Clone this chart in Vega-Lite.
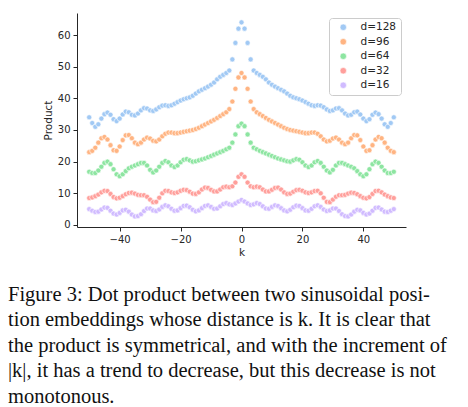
{
  "$schema": "https://vega.github.io/schema/vega-lite/v6.json",
  "width": 329,
  "height": 214,
  "autosize": {"type": "none"},
  "padding": {"left": 77, "top": 13, "right": 62, "bottom": 180},
  "background": "white",
  "config": {"view": {"stroke": null}, "font": "DejaVu Sans"},
  "title": {
    "text": [
      "Figure 3: Dot product between two sinusoidal posi-",
      "tion embeddings whose distance is k.  It is clear that",
      "the product is symmetrical, and with the increment of",
      "|k|, it has a trend to decrease, but this decrease is not",
      "monotonous."
    ],
    "orient": "bottom",
    "anchor": "start",
    "frame": "group",
    "dx": -69,
    "offset": 27,
    "font": "Liberation Serif",
    "fontSize": 20.5,
    "fontWeight": "normal",
    "lineHeight": 25.5,
    "color": "#111111"
  },
  "data": {
    "values": [
      {"k":-50,"d":"d=128","p":34.0},{"k":-49,"d":"d=128","p":32.2},{"k":-48,"d":"d=128","p":31.0},{"k":-47,"d":"d=128","p":31.8},{"k":-46,"d":"d=128","p":33.6},
      {"k":-45,"d":"d=128","p":35.0},{"k":-44,"d":"d=128","p":35.5},{"k":-43,"d":"d=128","p":34.8},{"k":-42,"d":"d=128","p":33.4},{"k":-41,"d":"d=128","p":32.8},
      {"k":-40,"d":"d=128","p":33.6},{"k":-39,"d":"d=128","p":34.9},{"k":-38,"d":"d=128","p":35.8},{"k":-37,"d":"d=128","p":35.6},{"k":-36,"d":"d=128","p":34.8},
      {"k":-35,"d":"d=128","p":34.6},{"k":-34,"d":"d=128","p":35.2},{"k":-33,"d":"d=128","p":36.2},{"k":-32,"d":"d=128","p":36.9},{"k":-31,"d":"d=128","p":36.8},
      {"k":-30,"d":"d=128","p":36.2},{"k":-29,"d":"d=128","p":36.0},{"k":-28,"d":"d=128","p":36.5},{"k":-27,"d":"d=128","p":37.2},{"k":-26,"d":"d=128","p":37.7},
      {"k":-25,"d":"d=128","p":37.8},{"k":-24,"d":"d=128","p":37.6},{"k":-23,"d":"d=128","p":37.8},{"k":-22,"d":"d=128","p":38.3},{"k":-21,"d":"d=128","p":38.8},
      {"k":-20,"d":"d=128","p":39.3},{"k":-19,"d":"d=128","p":39.7},{"k":-18,"d":"d=128","p":40.0},{"k":-17,"d":"d=128","p":40.3},{"k":-16,"d":"d=128","p":40.8},
      {"k":-15,"d":"d=128","p":41.5},{"k":-14,"d":"d=128","p":42.2},{"k":-13,"d":"d=128","p":42.7},{"k":-12,"d":"d=128","p":43.2},{"k":-11,"d":"d=128","p":43.7},
      {"k":-10,"d":"d=128","p":44.3},{"k":-9,"d":"d=128","p":45.0},{"k":-8,"d":"d=128","p":46.0},{"k":-7,"d":"d=128","p":46.8},{"k":-6,"d":"d=128","p":47.4},
      {"k":-5,"d":"d=128","p":48.0},{"k":-4,"d":"d=128","p":48.8},{"k":-3,"d":"d=128","p":52.3},{"k":-2,"d":"d=128","p":57.5},{"k":-1,"d":"d=128","p":62.0},
      {"k":0,"d":"d=128","p":64.0},
      {"k":1,"d":"d=128","p":62.0},{"k":2,"d":"d=128","p":57.5},{"k":3,"d":"d=128","p":52.3},{"k":4,"d":"d=128","p":48.8},{"k":5,"d":"d=128","p":48.0},
      {"k":6,"d":"d=128","p":47.4},{"k":7,"d":"d=128","p":46.8},{"k":8,"d":"d=128","p":46.0},{"k":9,"d":"d=128","p":45.0},{"k":10,"d":"d=128","p":44.3},
      {"k":11,"d":"d=128","p":43.7},{"k":12,"d":"d=128","p":43.2},{"k":13,"d":"d=128","p":42.7},{"k":14,"d":"d=128","p":42.2},{"k":15,"d":"d=128","p":41.5},
      {"k":16,"d":"d=128","p":40.8},{"k":17,"d":"d=128","p":40.3},{"k":18,"d":"d=128","p":40.0},{"k":19,"d":"d=128","p":39.7},{"k":20,"d":"d=128","p":39.3},
      {"k":21,"d":"d=128","p":38.8},{"k":22,"d":"d=128","p":38.3},{"k":23,"d":"d=128","p":37.8},{"k":24,"d":"d=128","p":37.6},{"k":25,"d":"d=128","p":37.8},
      {"k":26,"d":"d=128","p":37.7},{"k":27,"d":"d=128","p":37.2},{"k":28,"d":"d=128","p":36.5},{"k":29,"d":"d=128","p":36.0},{"k":30,"d":"d=128","p":36.2},
      {"k":31,"d":"d=128","p":36.8},{"k":32,"d":"d=128","p":36.9},{"k":33,"d":"d=128","p":36.2},{"k":34,"d":"d=128","p":35.2},{"k":35,"d":"d=128","p":34.6},
      {"k":36,"d":"d=128","p":34.8},{"k":37,"d":"d=128","p":35.6},{"k":38,"d":"d=128","p":35.8},{"k":39,"d":"d=128","p":34.9},{"k":40,"d":"d=128","p":33.6},
      {"k":41,"d":"d=128","p":32.8},{"k":42,"d":"d=128","p":33.4},{"k":43,"d":"d=128","p":34.8},{"k":44,"d":"d=128","p":35.5},{"k":45,"d":"d=128","p":35.0},
      {"k":46,"d":"d=128","p":33.6},{"k":47,"d":"d=128","p":31.8},{"k":48,"d":"d=128","p":31.0},{"k":49,"d":"d=128","p":32.2},{"k":50,"d":"d=128","p":34.0},

      {"k":-50,"d":"d=96","p":23.0},{"k":-49,"d":"d=96","p":23.4},{"k":-48,"d":"d=96","p":24.4},{"k":-47,"d":"d=96","p":26.0},{"k":-46,"d":"d=96","p":27.4},
      {"k":-45,"d":"d=96","p":27.8},{"k":-44,"d":"d=96","p":27.0},{"k":-43,"d":"d=96","p":25.2},{"k":-42,"d":"d=96","p":23.6},{"k":-41,"d":"d=96","p":23.4},
      {"k":-40,"d":"d=96","p":24.8},{"k":-39,"d":"d=96","p":26.8},{"k":-38,"d":"d=96","p":28.3},{"k":-37,"d":"d=96","p":28.4},{"k":-36,"d":"d=96","p":27.4},
      {"k":-35,"d":"d=96","p":26.0},{"k":-34,"d":"d=96","p":25.5},{"k":-33,"d":"d=96","p":26.0},{"k":-32,"d":"d=96","p":27.0},{"k":-31,"d":"d=96","p":27.6},
      {"k":-30,"d":"d=96","p":27.3},{"k":-29,"d":"d=96","p":26.6},{"k":-28,"d":"d=96","p":26.4},{"k":-27,"d":"d=96","p":27.0},{"k":-26,"d":"d=96","p":28.0},
      {"k":-25,"d":"d=96","p":28.8},{"k":-24,"d":"d=96","p":29.2},{"k":-23,"d":"d=96","p":29.2},{"k":-22,"d":"d=96","p":29.0},{"k":-21,"d":"d=96","p":29.0},
      {"k":-20,"d":"d=96","p":29.2},{"k":-19,"d":"d=96","p":29.4},{"k":-18,"d":"d=96","p":29.6},{"k":-17,"d":"d=96","p":29.8},{"k":-16,"d":"d=96","p":30.0},
      {"k":-15,"d":"d=96","p":30.3},{"k":-14,"d":"d=96","p":30.7},{"k":-13,"d":"d=96","p":31.2},{"k":-12,"d":"d=96","p":31.7},{"k":-11,"d":"d=96","p":32.2},
      {"k":-10,"d":"d=96","p":32.7},{"k":-9,"d":"d=96","p":33.2},{"k":-8,"d":"d=96","p":33.8},{"k":-7,"d":"d=96","p":34.4},{"k":-6,"d":"d=96","p":35.0},
      {"k":-5,"d":"d=96","p":35.6},{"k":-4,"d":"d=96","p":36.6},{"k":-3,"d":"d=96","p":39.0},{"k":-2,"d":"d=96","p":43.0},{"k":-1,"d":"d=96","p":46.6},
      {"k":0,"d":"d=96","p":48.0},
      {"k":1,"d":"d=96","p":46.6},{"k":2,"d":"d=96","p":43.0},{"k":3,"d":"d=96","p":39.0},{"k":4,"d":"d=96","p":36.6},{"k":5,"d":"d=96","p":35.6},
      {"k":6,"d":"d=96","p":35.0},{"k":7,"d":"d=96","p":34.4},{"k":8,"d":"d=96","p":33.8},{"k":9,"d":"d=96","p":33.2},{"k":10,"d":"d=96","p":32.7},
      {"k":11,"d":"d=96","p":32.2},{"k":12,"d":"d=96","p":31.7},{"k":13,"d":"d=96","p":31.2},{"k":14,"d":"d=96","p":30.7},{"k":15,"d":"d=96","p":30.3},
      {"k":16,"d":"d=96","p":30.0},{"k":17,"d":"d=96","p":29.8},{"k":18,"d":"d=96","p":29.6},{"k":19,"d":"d=96","p":29.4},{"k":20,"d":"d=96","p":29.2},
      {"k":21,"d":"d=96","p":29.0},{"k":22,"d":"d=96","p":29.0},{"k":23,"d":"d=96","p":29.2},{"k":24,"d":"d=96","p":29.2},{"k":25,"d":"d=96","p":28.8},
      {"k":26,"d":"d=96","p":28.0},{"k":27,"d":"d=96","p":27.0},{"k":28,"d":"d=96","p":26.4},{"k":29,"d":"d=96","p":26.6},{"k":30,"d":"d=96","p":27.3},
      {"k":31,"d":"d=96","p":27.6},{"k":32,"d":"d=96","p":27.0},{"k":33,"d":"d=96","p":26.0},{"k":34,"d":"d=96","p":25.5},{"k":35,"d":"d=96","p":26.0},
      {"k":36,"d":"d=96","p":27.4},{"k":37,"d":"d=96","p":28.4},{"k":38,"d":"d=96","p":28.3},{"k":39,"d":"d=96","p":26.8},{"k":40,"d":"d=96","p":24.8},
      {"k":41,"d":"d=96","p":23.4},{"k":42,"d":"d=96","p":23.6},{"k":43,"d":"d=96","p":25.2},{"k":44,"d":"d=96","p":27.0},{"k":45,"d":"d=96","p":27.8},
      {"k":46,"d":"d=96","p":27.4},{"k":47,"d":"d=96","p":26.0},{"k":48,"d":"d=96","p":24.4},{"k":49,"d":"d=96","p":23.4},{"k":50,"d":"d=96","p":23.0},

      {"k":-50,"d":"d=64","p":16.8},{"k":-49,"d":"d=64","p":16.4},{"k":-48,"d":"d=64","p":16.4},{"k":-47,"d":"d=64","p":17.2},{"k":-46,"d":"d=64","p":18.4},
      {"k":-45,"d":"d=64","p":19.6},{"k":-44,"d":"d=64","p":20.0},{"k":-43,"d":"d=64","p":19.2},{"k":-42,"d":"d=64","p":17.6},{"k":-41,"d":"d=64","p":16.0},
      {"k":-40,"d":"d=64","p":15.4},{"k":-39,"d":"d=64","p":16.0},{"k":-38,"d":"d=64","p":17.0},{"k":-37,"d":"d=64","p":17.9},{"k":-36,"d":"d=64","p":18.4},
      {"k":-35,"d":"d=64","p":18.8},{"k":-34,"d":"d=64","p":19.2},{"k":-33,"d":"d=64","p":19.6},{"k":-32,"d":"d=64","p":19.6},{"k":-31,"d":"d=64","p":18.8},
      {"k":-30,"d":"d=64","p":17.4},{"k":-29,"d":"d=64","p":16.6},{"k":-28,"d":"d=64","p":17.2},{"k":-27,"d":"d=64","p":18.4},{"k":-26,"d":"d=64","p":19.6},
      {"k":-25,"d":"d=64","p":20.2},{"k":-24,"d":"d=64","p":19.8},{"k":-23,"d":"d=64","p":18.8},{"k":-22,"d":"d=64","p":18.3},{"k":-21,"d":"d=64","p":18.8},
      {"k":-20,"d":"d=64","p":19.8},{"k":-19,"d":"d=64","p":20.6},{"k":-18,"d":"d=64","p":20.8},{"k":-17,"d":"d=64","p":20.4},{"k":-16,"d":"d=64","p":20.0},
      {"k":-15,"d":"d=64","p":20.1},{"k":-14,"d":"d=64","p":20.4},{"k":-13,"d":"d=64","p":20.7},{"k":-12,"d":"d=64","p":21.0},{"k":-11,"d":"d=64","p":21.4},
      {"k":-10,"d":"d=64","p":21.8},{"k":-9,"d":"d=64","p":22.2},{"k":-8,"d":"d=64","p":22.6},{"k":-7,"d":"d=64","p":23.0},{"k":-6,"d":"d=64","p":23.4},
      {"k":-5,"d":"d=64","p":23.9},{"k":-4,"d":"d=64","p":24.4},{"k":-3,"d":"d=64","p":26.0},{"k":-2,"d":"d=64","p":28.6},{"k":-1,"d":"d=64","p":31.2},
      {"k":0,"d":"d=64","p":32.0},
      {"k":1,"d":"d=64","p":31.2},{"k":2,"d":"d=64","p":28.6},{"k":3,"d":"d=64","p":26.0},{"k":4,"d":"d=64","p":24.4},{"k":5,"d":"d=64","p":23.9},
      {"k":6,"d":"d=64","p":23.4},{"k":7,"d":"d=64","p":23.0},{"k":8,"d":"d=64","p":22.6},{"k":9,"d":"d=64","p":22.2},{"k":10,"d":"d=64","p":21.8},
      {"k":11,"d":"d=64","p":21.4},{"k":12,"d":"d=64","p":21.0},{"k":13,"d":"d=64","p":20.7},{"k":14,"d":"d=64","p":20.4},{"k":15,"d":"d=64","p":20.1},
      {"k":16,"d":"d=64","p":20.0},{"k":17,"d":"d=64","p":20.4},{"k":18,"d":"d=64","p":20.8},{"k":19,"d":"d=64","p":20.6},{"k":20,"d":"d=64","p":19.8},
      {"k":21,"d":"d=64","p":18.8},{"k":22,"d":"d=64","p":18.3},{"k":23,"d":"d=64","p":18.8},{"k":24,"d":"d=64","p":19.8},{"k":25,"d":"d=64","p":20.2},
      {"k":26,"d":"d=64","p":19.6},{"k":27,"d":"d=64","p":18.4},{"k":28,"d":"d=64","p":17.2},{"k":29,"d":"d=64","p":16.6},{"k":30,"d":"d=64","p":17.4},
      {"k":31,"d":"d=64","p":18.8},{"k":32,"d":"d=64","p":19.6},{"k":33,"d":"d=64","p":19.6},{"k":34,"d":"d=64","p":19.2},{"k":35,"d":"d=64","p":18.8},
      {"k":36,"d":"d=64","p":18.4},{"k":37,"d":"d=64","p":17.9},{"k":38,"d":"d=64","p":17.0},{"k":39,"d":"d=64","p":16.0},{"k":40,"d":"d=64","p":15.4},
      {"k":41,"d":"d=64","p":16.0},{"k":42,"d":"d=64","p":17.6},{"k":43,"d":"d=64","p":19.2},{"k":44,"d":"d=64","p":20.0},{"k":45,"d":"d=64","p":19.6},
      {"k":46,"d":"d=64","p":18.4},{"k":47,"d":"d=64","p":17.2},{"k":48,"d":"d=64","p":16.4},{"k":49,"d":"d=64","p":16.4},{"k":50,"d":"d=64","p":16.8},

      {"k":-50,"d":"d=32","p":8.5},{"k":-49,"d":"d=32","p":8.7},{"k":-48,"d":"d=32","p":9.1},{"k":-47,"d":"d=32","p":9.6},{"k":-46,"d":"d=32","p":10.3},
      {"k":-45,"d":"d=32","p":10.8},{"k":-44,"d":"d=32","p":10.7},{"k":-43,"d":"d=32","p":9.8},{"k":-42,"d":"d=32","p":8.8},{"k":-41,"d":"d=32","p":8.4},
      {"k":-40,"d":"d=32","p":8.6},{"k":-39,"d":"d=32","p":9.1},{"k":-38,"d":"d=32","p":9.7},{"k":-37,"d":"d=32","p":10.1},{"k":-36,"d":"d=32","p":10.2},
      {"k":-35,"d":"d=32","p":9.9},{"k":-34,"d":"d=32","p":9.5},{"k":-33,"d":"d=32","p":9.4},{"k":-32,"d":"d=32","p":9.4},{"k":-31,"d":"d=32","p":8.9},
      {"k":-30,"d":"d=32","p":8.0},{"k":-29,"d":"d=32","p":7.2},{"k":-28,"d":"d=32","p":7.3},{"k":-27,"d":"d=32","p":8.6},{"k":-26,"d":"d=32","p":10.0},
      {"k":-25,"d":"d=32","p":10.8},{"k":-24,"d":"d=32","p":10.7},{"k":-23,"d":"d=32","p":10.3},{"k":-22,"d":"d=32","p":10.1},{"k":-21,"d":"d=32","p":10.3},
      {"k":-20,"d":"d=32","p":10.8},{"k":-19,"d":"d=32","p":11.1},{"k":-18,"d":"d=32","p":11.0},{"k":-17,"d":"d=32","p":10.5},{"k":-16,"d":"d=32","p":9.9},
      {"k":-15,"d":"d=32","p":9.8},{"k":-14,"d":"d=32","p":10.3},{"k":-13,"d":"d=32","p":11.2},{"k":-12,"d":"d=32","p":11.8},{"k":-11,"d":"d=32","p":11.7},
      {"k":-10,"d":"d=32","p":11.1},{"k":-9,"d":"d=32","p":10.6},{"k":-8,"d":"d=32","p":10.6},{"k":-7,"d":"d=32","p":11.2},{"k":-6,"d":"d=32","p":11.9},
      {"k":-5,"d":"d=32","p":12.1},{"k":-4,"d":"d=32","p":11.9},{"k":-3,"d":"d=32","p":12.2},{"k":-2,"d":"d=32","p":13.4},{"k":-1,"d":"d=32","p":15.2},
      {"k":0,"d":"d=32","p":16.0},
      {"k":1,"d":"d=32","p":15.2},{"k":2,"d":"d=32","p":13.4},{"k":3,"d":"d=32","p":12.2},{"k":4,"d":"d=32","p":11.9},{"k":5,"d":"d=32","p":12.1},
      {"k":6,"d":"d=32","p":11.9},{"k":7,"d":"d=32","p":11.2},{"k":8,"d":"d=32","p":10.6},{"k":9,"d":"d=32","p":10.6},{"k":10,"d":"d=32","p":11.1},
      {"k":11,"d":"d=32","p":11.7},{"k":12,"d":"d=32","p":11.8},{"k":13,"d":"d=32","p":11.2},{"k":14,"d":"d=32","p":10.3},{"k":15,"d":"d=32","p":9.8},
      {"k":16,"d":"d=32","p":9.9},{"k":17,"d":"d=32","p":10.5},{"k":18,"d":"d=32","p":11.0},{"k":19,"d":"d=32","p":11.1},{"k":20,"d":"d=32","p":10.8},
      {"k":21,"d":"d=32","p":10.3},{"k":22,"d":"d=32","p":10.1},{"k":23,"d":"d=32","p":10.3},{"k":24,"d":"d=32","p":10.7},{"k":25,"d":"d=32","p":10.8},
      {"k":26,"d":"d=32","p":10.0},{"k":27,"d":"d=32","p":8.6},{"k":28,"d":"d=32","p":7.3},{"k":29,"d":"d=32","p":7.2},{"k":30,"d":"d=32","p":8.0},
      {"k":31,"d":"d=32","p":8.9},{"k":32,"d":"d=32","p":9.4},{"k":33,"d":"d=32","p":9.4},{"k":34,"d":"d=32","p":9.5},{"k":35,"d":"d=32","p":9.9},
      {"k":36,"d":"d=32","p":10.2},{"k":37,"d":"d=32","p":10.1},{"k":38,"d":"d=32","p":9.7},{"k":39,"d":"d=32","p":9.1},{"k":40,"d":"d=32","p":8.6},
      {"k":41,"d":"d=32","p":8.4},{"k":42,"d":"d=32","p":8.8},{"k":43,"d":"d=32","p":9.8},{"k":44,"d":"d=32","p":10.7},{"k":45,"d":"d=32","p":10.8},
      {"k":46,"d":"d=32","p":10.3},{"k":47,"d":"d=32","p":9.6},{"k":48,"d":"d=32","p":9.1},{"k":49,"d":"d=32","p":8.7},{"k":50,"d":"d=32","p":8.5},

      {"k":-50,"d":"d=16","p":5.0},{"k":-49,"d":"d=16","p":4.5},{"k":-48,"d":"d=16","p":4.1},{"k":-47,"d":"d=16","p":4.2},{"k":-46,"d":"d=16","p":4.9},
      {"k":-45,"d":"d=16","p":5.5},{"k":-44,"d":"d=16","p":5.4},{"k":-43,"d":"d=16","p":4.5},{"k":-42,"d":"d=16","p":3.6},{"k":-41,"d":"d=16","p":3.3},
      {"k":-40,"d":"d=16","p":3.8},{"k":-39,"d":"d=16","p":4.6},{"k":-38,"d":"d=16","p":4.8},{"k":-37,"d":"d=16","p":4.2},{"k":-36,"d":"d=16","p":3.3},
      {"k":-35,"d":"d=16","p":2.7},{"k":-34,"d":"d=16","p":2.8},{"k":-33,"d":"d=16","p":3.4},{"k":-32,"d":"d=16","p":4.4},{"k":-31,"d":"d=16","p":5.2},
      {"k":-30,"d":"d=16","p":5.2},{"k":-29,"d":"d=16","p":4.6},{"k":-28,"d":"d=16","p":4.4},{"k":-27,"d":"d=16","p":4.9},{"k":-26,"d":"d=16","p":5.7},
      {"k":-25,"d":"d=16","p":6.2},{"k":-24,"d":"d=16","p":5.9},{"k":-23,"d":"d=16","p":5.1},{"k":-22,"d":"d=16","p":4.5},{"k":-21,"d":"d=16","p":4.6},
      {"k":-20,"d":"d=16","p":5.3},{"k":-19,"d":"d=16","p":6.0},{"k":-18,"d":"d=16","p":6.1},{"k":-17,"d":"d=16","p":5.6},{"k":-16,"d":"d=16","p":4.8},
      {"k":-15,"d":"d=16","p":4.3},{"k":-14,"d":"d=16","p":4.6},{"k":-13,"d":"d=16","p":5.3},{"k":-12,"d":"d=16","p":6.0},{"k":-11,"d":"d=16","p":6.2},
      {"k":-10,"d":"d=16","p":5.7},{"k":-9,"d":"d=16","p":5.1},{"k":-8,"d":"d=16","p":5.2},{"k":-7,"d":"d=16","p":5.9},{"k":-6,"d":"d=16","p":6.6},
      {"k":-5,"d":"d=16","p":6.9},{"k":-4,"d":"d=16","p":6.5},{"k":-3,"d":"d=16","p":6.3},{"k":-2,"d":"d=16","p":6.8},{"k":-1,"d":"d=16","p":7.4},
      {"k":0,"d":"d=16","p":7.9},
      {"k":1,"d":"d=16","p":7.4},{"k":2,"d":"d=16","p":6.8},{"k":3,"d":"d=16","p":6.3},{"k":4,"d":"d=16","p":6.5},{"k":5,"d":"d=16","p":6.9},
      {"k":6,"d":"d=16","p":6.6},{"k":7,"d":"d=16","p":5.9},{"k":8,"d":"d=16","p":5.2},{"k":9,"d":"d=16","p":5.1},{"k":10,"d":"d=16","p":5.7},
      {"k":11,"d":"d=16","p":6.2},{"k":12,"d":"d=16","p":6.0},{"k":13,"d":"d=16","p":5.3},{"k":14,"d":"d=16","p":4.6},{"k":15,"d":"d=16","p":4.3},
      {"k":16,"d":"d=16","p":4.8},{"k":17,"d":"d=16","p":5.6},{"k":18,"d":"d=16","p":6.1},{"k":19,"d":"d=16","p":6.0},{"k":20,"d":"d=16","p":5.3},
      {"k":21,"d":"d=16","p":4.6},{"k":22,"d":"d=16","p":4.5},{"k":23,"d":"d=16","p":5.1},{"k":24,"d":"d=16","p":5.9},{"k":25,"d":"d=16","p":6.2},
      {"k":26,"d":"d=16","p":5.7},{"k":27,"d":"d=16","p":4.9},{"k":28,"d":"d=16","p":4.4},{"k":29,"d":"d=16","p":4.6},{"k":30,"d":"d=16","p":5.2},
      {"k":31,"d":"d=16","p":5.2},{"k":32,"d":"d=16","p":4.4},{"k":33,"d":"d=16","p":3.4},{"k":34,"d":"d=16","p":2.8},{"k":35,"d":"d=16","p":2.7},
      {"k":36,"d":"d=16","p":3.3},{"k":37,"d":"d=16","p":4.2},{"k":38,"d":"d=16","p":4.8},{"k":39,"d":"d=16","p":4.6},{"k":40,"d":"d=16","p":3.8},
      {"k":41,"d":"d=16","p":3.3},{"k":42,"d":"d=16","p":3.6},{"k":43,"d":"d=16","p":4.5},{"k":44,"d":"d=16","p":5.4},{"k":45,"d":"d=16","p":5.5},
      {"k":46,"d":"d=16","p":4.9},{"k":47,"d":"d=16","p":4.2},{"k":48,"d":"d=16","p":4.1},{"k":49,"d":"d=16","p":4.5},{"k":50,"d":"d=16","p":5.0}
    ]
  },
  "mark": {"type": "circle", "size": 26, "opacity": 1, "stroke": "white", "strokeWidth": 0.6},
  "encoding": {
    "x": {
      "field": "k",
      "type": "quantitative",
      "scale": {"domain": [-54, 54], "nice": false},
      "axis": {
        "values": [-40, -20, 0, 20, 40],
        "title": "k",
        "grid": false,
        "domainColor": "#262626",
        "tickColor": "#262626",
        "labelColor": "#262626",
        "titleColor": "#262626",
        "tickSize": 4,
        "labelPadding": 3,
        "labelFontSize": 10,
        "titleFontSize": 10.5,
        "titleFontWeight": "normal",
        "titlePadding": 3
      }
    },
    "y": {
      "field": "p",
      "type": "quantitative",
      "scale": {"domain": [-0.65, 66.95], "nice": false, "zero": false},
      "axis": {
        "values": [0, 10, 20, 30, 40, 50, 60],
        "title": "Product",
        "grid": false,
        "domainColor": "#262626",
        "tickColor": "#262626",
        "labelColor": "#262626",
        "titleColor": "#262626",
        "tickSize": 4,
        "labelPadding": 3,
        "labelFontSize": 10,
        "titleFontSize": 10.5,
        "titleFontWeight": "normal",
        "titlePadding": 4
      }
    },
    "color": {
      "field": "d",
      "type": "nominal",
      "scale": {
        "domain": ["d=128", "d=96", "d=64", "d=32", "d=16"],
        "range": ["#a1c9f4", "#ffb482", "#8de5a1", "#ff9f9b", "#d0bbff"]
      },
      "legend": {
        "title": null,
        "orient": "top-right",
        "offset": 5,
        "padding": 4,
        "fillColor": "white",
        "strokeColor": "#cccccc",
        "cornerRadius": 3,
        "symbolType": "circle",
        "symbolSize": 42,
        "symbolOpacity": 1,
        "symbolStrokeColor": "white",
        "symbolStrokeWidth": 0.6,
        "symbolOffset": 5,
        "labelOffset": 12,
        "labelFontSize": 10.5,
        "labelColor": "#262626",
        "rowPadding": 3.5
      }
    }
  }
}
